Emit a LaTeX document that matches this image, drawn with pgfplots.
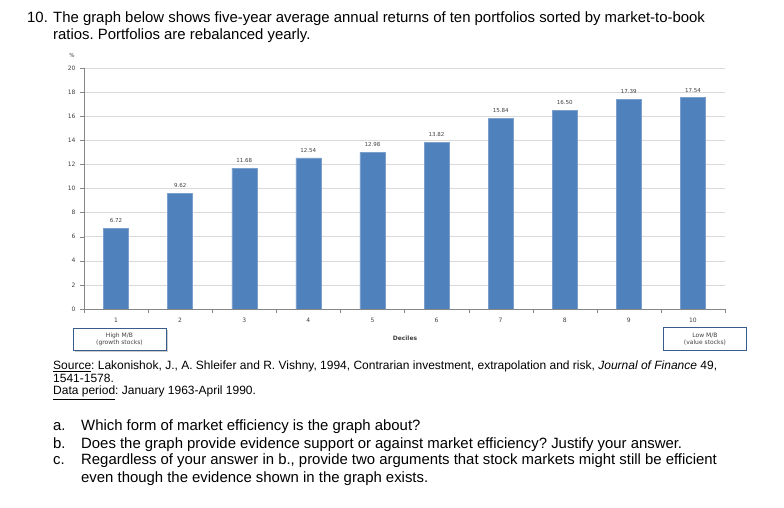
\documentclass[border=0pt]{standalone}
\usepackage{fontspec}
\setmainfont{Liberation Sans}
\newfontfamily\chartfont{DejaVu Sans}
\usepackage{pgfplots}
\pgfplotsset{compat=1.18}
\usetikzlibrary{shadows}
\definecolor{barblue}{HTML}{4F81BD}
\definecolor{gridgray}{HTML}{D9D9D9}
\definecolor{axisgray}{HTML}{868686}
\definecolor{labelgray}{HTML}{404040}
\definecolor{boxblue}{HTML}{385D8A}

\pgfplotstableread{
decile ret
1  6.72
2  9.62
3  11.68
4  12.54
5  12.98
6  13.82
7  15.84
8  16.50
9  17.39
10 17.54
}\returns

\begin{document}
\frenchspacing
\begin{tikzpicture}
\path (0pt,0pt) rectangle (784pt,508pt);

% question text
\begin{scope}[every node/.style={anchor=base west, inner sep=0, font=\fontsize{14.9}{17}\selectfont}]
\node at (27pt,485.3pt) {10.};
\node at (53pt,485.3pt) {The graph below shows five-year average annual returns of ten portfolios sorted by market-to-book};
\node at (53pt,468.7pt) {ratios. Portfolios are rebalanced yearly.};
\end{scope}

\begin{axis}[
    at={(84pt,199pt)}, anchor=south west,
    scale only axis, width=641pt, height=241pt,
    xmin=0.5, xmax=10.5, ymin=0, ymax=20,
    ytick={0,2,...,20},
    xtick={1,...,10},
    minor xtick={0.5,1.5,...,10.5},
    axis x line=bottom, axis y line=left,
    axis line style={draw=axisgray,-},
    ymajorgrids, grid style={gridgray},
    tick align=outside,
    major tick length=4pt, minor tick length=4pt,
    major x tick style={draw=none},
    tick style={draw=axisgray},
    /pgf/number format/assume math mode=true,
    tick label style={font=\chartfont\fontsize{6}{7}\selectfont, text=labelgray},
    yticklabel style={xshift=-1pt},
    xticklabel style={yshift=-2pt},
]
\addplot[ybar, bar width=25pt, fill=barblue, draw=barblue!75!white, line width=0.4pt,
    nodes near coords,
    every node near coord/.append style={font=\chartfont\fontsize{5.5}{6}\selectfont, text=labelgray, yshift=2pt},
    /pgf/number format/.cd, fixed, fixed zerofill, precision=2, assume math mode=true]
    table[x=decile, y=ret] {\returns};
\end{axis}

% chart annotations
\node[font=\chartfont\fontsize{5.5}{6}\selectfont, text=labelgray] at (72pt,452.5pt) {\%};
\node[font=\chartfont\bfseries\fontsize{6}{7}\selectfont, text=labelgray] at (405pt,170pt) {Deciles};
\node[draw=boxblue, fill=white, minimum width=93pt, minimum height=22pt, inner sep=0,
      align=center, font=\chartfont\fontsize{6}{7}\selectfont, text=labelgray,
      drop shadow={shadow xshift=2pt, shadow yshift=-2pt, fill=black!40}]
      at (119.5pt,169pt) {High M/B\\(growth stocks)};
\node[draw=boxblue, fill=white, minimum width=83pt, minimum height=23pt, inner sep=0,
      align=center, font=\chartfont\fontsize{6}{7}\selectfont, text=labelgray]
      at (705pt,169pt) {Low M/B\\(value stocks)};

% source
\begin{scope}[every node/.style={anchor=base west, inner sep=0, font=\fontsize{12}{14}\selectfont}]
\node at (53pt,138pt) {\underline{Source}: Lakonishok, J., A. Shleifer and R. Vishny, 1994, Contrarian investment, extrapolation and risk, \textit{Journal of Finance} 49,};
\node at (53pt,125.7pt) {1541-1578.};
\node at (53pt,113pt) {\underline{Data period}: January 1963-April 1990.};
\end{scope}

% questions
\begin{scope}[every node/.style={anchor=base west, inner sep=0, font=\fontsize{14.9}{17}\selectfont}]
\node at (53pt,77.3pt) {a.};
\node at (81pt,77.3pt) {Which form of market efficiency is the graph about?};
\node at (53pt,59.7pt) {b.};
\node at (81pt,59.7pt) {Does the graph provide evidence support or against market efficiency? Justify your answer.};
\node at (53pt,43pt) {c.};
\node at (81pt,43pt) {Regardless of your answer in b., provide two arguments that stock markets might still be efficient};
\node at (81pt,25.3pt) {even though the evidence shown in the graph exists.};
\end{scope}
\end{tikzpicture}
\end{document}
